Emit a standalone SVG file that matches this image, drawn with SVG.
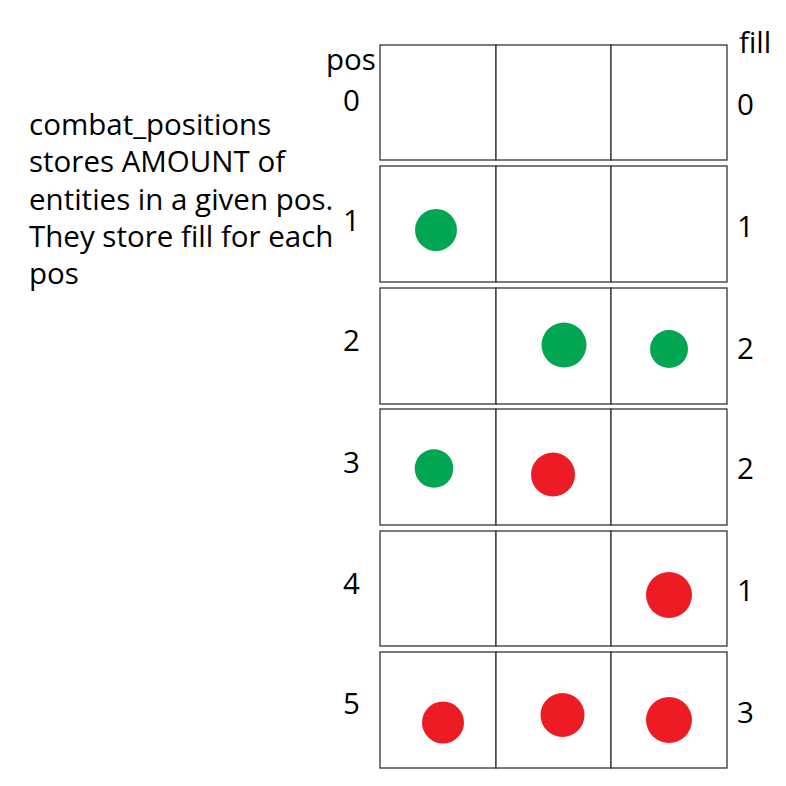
<svg xmlns="http://www.w3.org/2000/svg" width="786" height="786" viewBox="0 0 786 786">
<style>
.cell{fill:#fff;stroke:#333;stroke-width:1.3}
.t{font-family:"Open Sans","Noto Sans",sans-serif;font-size:29.5px;fill:#000}
.g{fill:#00A651}
.r{fill:#ED1C24}
</style>
<rect width="786" height="786" fill="#fff"/>
<g id="description">
<text class="t" x="29" y="135">combat_positions</text>
<text class="t" x="29" y="172">stores AMOUNT of</text>
<text class="t" x="29" y="210">entities in a given pos.</text>
<text class="t" x="29" y="247">They store fill for each</text>
<text class="t" x="29" y="284">pos</text>
</g>
<g id="headers">
<text class="t" x="326" y="70">pos</text>
<text class="t" x="739" y="53">fill</text>
</g>
<g id="row0">
<rect class="cell" x="380" y="45" width="116" height="115"/>
<rect class="cell" x="496" y="45" width="115" height="115"/>
<rect class="cell" x="611" y="45" width="116" height="115"/>
<text class="t" x="343" y="111">0</text>
<text class="t" x="737" y="115">0</text>
</g>
<g id="row1">
<rect class="cell" x="380" y="166" width="116" height="116"/>
<rect class="cell" x="496" y="166" width="115" height="116"/>
<rect class="cell" x="611" y="166" width="116" height="116"/>
<circle class="g" cx="436" cy="230" r="21"/>
<text class="t" x="343" y="231">1</text>
<text class="t" x="737" y="237">1</text>
</g>
<g id="row2">
<rect class="cell" x="380" y="288" width="116" height="116"/>
<rect class="cell" x="496" y="288" width="115" height="116"/>
<rect class="cell" x="611" y="288" width="116" height="116"/>
<circle class="g" cx="564" cy="345" r="22.5"/>
<circle class="g" cx="669" cy="349" r="19"/>
<text class="t" x="343" y="351">2</text>
<text class="t" x="737" y="359">2</text>
</g>
<g id="row3">
<rect class="cell" x="380" y="409" width="116" height="116"/>
<rect class="cell" x="496" y="409" width="115" height="116"/>
<rect class="cell" x="611" y="409" width="116" height="116"/>
<circle class="g" cx="434" cy="468.5" r="19.3"/>
<circle class="r" cx="553" cy="474.5" r="22"/>
<text class="t" x="343" y="473">3</text>
<text class="t" x="737" y="479">2</text>
</g>
<g id="row4">
<rect class="cell" x="380" y="531" width="116" height="115"/>
<rect class="cell" x="496" y="531" width="115" height="115"/>
<rect class="cell" x="611" y="531" width="116" height="115"/>
<circle class="r" cx="669" cy="595" r="23"/>
<text class="t" x="343" y="594">4</text>
<text class="t" x="737" y="601">1</text>
</g>
<g id="row5">
<rect class="cell" x="380" y="652" width="116" height="116"/>
<rect class="cell" x="496" y="652" width="115" height="116"/>
<rect class="cell" x="611" y="652" width="116" height="116"/>
<circle class="r" cx="443" cy="722.5" r="21"/>
<circle class="r" cx="562.5" cy="715" r="22"/>
<circle class="r" cx="669" cy="720" r="23"/>
<text class="t" x="343" y="714">5</text>
<text class="t" x="737" y="723">3</text>
</g>
</svg>
